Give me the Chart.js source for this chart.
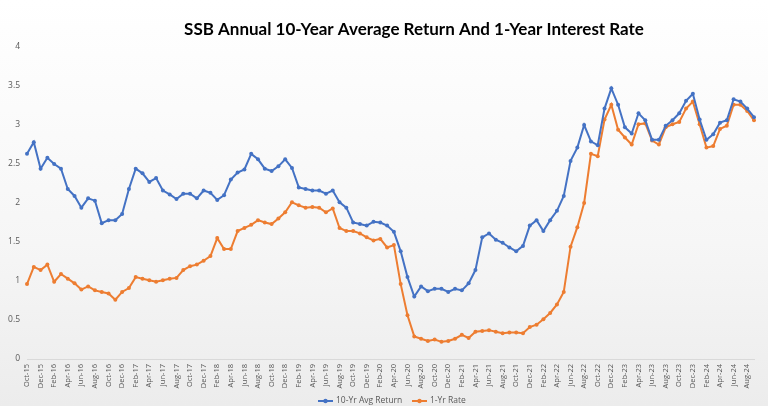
<!DOCTYPE html>
<html>
<head>
<meta charset="utf-8">
<script src="https://cdn.jsdelivr.net/npm/chart.js@4.4.1/dist/chart.umd.min.js"></script>
<style>
  html, body { margin: 0; padding: 0; }
  body { width: 768px; height: 406px; overflow: hidden; }
  #wrap { position: relative; width: 768px; height: 406px; background: linear-gradient(to bottom, #ffffff 0%, #f6f6f6 60%, #ececec 100%); }
  canvas { display: block; }
</style>
</head>
<body>
<div id="wrap"><canvas id="c" width="768" height="406"></canvas></div>
<script>
const titleText = "SSB Annual 10-Year Average Return And 1-Year Interest Rate";
const monthNames = ["Jan","Feb","Mar","Apr","May","Jun","Jul","Aug","Sep","Oct","Nov","Dec"];
const startYear = 2015, startMonth = 9, monthCount = 108; // Oct-15 .. Sep-24
const categories = [];
for (let i = 0; i < monthCount; i++) {
  const m = (startMonth + i) % 12;
  const y = startYear + Math.floor((startMonth + i) / 12);
  categories.push(monthNames[m] + "-" + String(y % 100).padStart(2, "0"));
}
const tenYrAvgReturn = [
  2.63, 2.78, 2.44, 2.58, 2.50, 2.44, 2.18, 2.09, 1.94, 2.06, 2.03, 1.74,
  1.78, 1.78, 1.86, 2.18, 2.44, 2.38, 2.27, 2.32, 2.16, 2.11, 2.05, 2.12,
  2.12, 2.06, 2.16, 2.13, 2.04, 2.10, 2.30, 2.39, 2.43, 2.63, 2.56, 2.44,
  2.41, 2.47, 2.56, 2.45, 2.20, 2.18, 2.16, 2.16, 2.12, 2.16, 2.01, 1.94,
  1.75, 1.73, 1.71, 1.76, 1.75, 1.71, 1.63, 1.38, 1.05, 0.80, 0.93, 0.87,
  0.90, 0.90, 0.86, 0.90, 0.88, 0.97, 1.14, 1.56, 1.61, 1.53, 1.49, 1.43,
  1.38, 1.45, 1.71, 1.78, 1.64, 1.78, 1.90, 2.09, 2.54, 2.71, 3.00, 2.79,
  2.74, 3.21, 3.47, 3.26, 2.97, 2.89, 3.15, 3.06, 2.81, 2.81, 2.99, 3.06,
  3.15, 3.31, 3.40, 3.07, 2.81, 2.88, 3.03, 3.06, 3.33, 3.30, 3.21, 3.10
];
const oneYrRate = [
  0.96, 1.18, 1.14, 1.21, 0.99, 1.09, 1.03, 0.97, 0.89, 0.93, 0.88, 0.86,
  0.84, 0.76, 0.86, 0.91, 1.05, 1.03, 1.01, 0.99, 1.01, 1.03, 1.04, 1.14,
  1.19, 1.21, 1.26, 1.32, 1.55, 1.41, 1.41, 1.64, 1.68, 1.72, 1.78, 1.75,
  1.73, 1.80, 1.88, 2.01, 1.97, 1.94, 1.95, 1.94, 1.88, 1.93, 1.68, 1.64,
  1.64, 1.61, 1.56, 1.52, 1.54, 1.43, 1.46, 0.96, 0.56, 0.29, 0.26, 0.23,
  0.25, 0.22, 0.23, 0.26, 0.31, 0.27, 0.35, 0.36, 0.37, 0.35, 0.33, 0.34,
  0.34, 0.33, 0.41, 0.44, 0.51, 0.59, 0.70, 0.86, 1.44, 1.69, 2.00, 2.63,
  2.60, 3.07, 3.26, 2.94, 2.84, 2.75, 3.01, 3.02, 2.80, 2.75, 2.97, 3.01,
  3.04, 3.21, 3.30, 3.01, 2.71, 2.73, 2.95, 2.99, 3.26, 3.26, 3.18, 3.06
];
const yTicks = [0, 0.5, 1, 1.5, 2, 2.5, 3, 3.5, 4];
const seriesNames = ["10-Yr Avg Return", "1-Yr Rate"];
const seriesColors = ["#4472C4", "#ED7D31"];

const titlePlugin = {
  id: "fixedTitle",
  afterDraw(chart) {
    const ctx = chart.ctx;
    ctx.save();
    ctx.font = "bold 17px Lato, 'Open Sans', sans-serif";
    ctx.fillStyle = "#000000";
    ctx.textAlign = "center";
    ctx.textBaseline = "middle";
    ctx.fillText(titleText, 414, 30);
    ctx.restore();
  }
};

const legendPlugin = {
  id: "fixedLegend",
  afterDraw(chart) {
    const ctx = chart.ctx;
    const y = 401;
    const starts = [318, 412];
    ctx.save();
    ctx.font = "8.5px 'Open Sans', sans-serif";
    ctx.textBaseline = "middle";
    ctx.textAlign = "left";
    chart.data.datasets.forEach((ds, i) => {
      const x0 = starts[i];
      ctx.strokeStyle = ds.borderColor;
      ctx.lineWidth = 2;
      ctx.beginPath(); ctx.moveTo(x0, y); ctx.lineTo(x0 + 15, y); ctx.stroke();
      ctx.fillStyle = ds.borderColor;
      ctx.beginPath(); ctx.arc(x0 + 7.5, y, 2.2, 0, Math.PI * 2); ctx.fill();
      ctx.fillStyle = "#595959";
      ctx.fillText(ds.label, x0 + 18, y);
    });
    ctx.restore();
  }
};

new Chart(document.getElementById("c"), {
  type: "line",
  data: {
    labels: categories,
    datasets: [
      { label: seriesNames[0], data: tenYrAvgReturn, borderColor: seriesColors[0], backgroundColor: seriesColors[0],
        borderWidth: 2, pointRadius: 2, pointHoverRadius: 2, pointBorderWidth: 0, tension: 0 },
      { label: seriesNames[1], data: oneYrRate, borderColor: seriesColors[1], backgroundColor: seriesColors[1],
        borderWidth: 2, pointRadius: 2, pointHoverRadius: 2, pointBorderWidth: 0, tension: 0 }
    ]
  },
  options: {
    responsive: false,
    animation: false,
    events: [],
    layout: { padding: { top: 47, right: 6, left: 0, bottom: 12 } },
    plugins: {
      title: { display: false },
      tooltip: { enabled: false },
      legend: { display: false }
    },
    scales: {
      x: {
        offset: false,
        grid: { display: false, drawTicks: false },
        border: { display: true, color: "#d9d9d9", width: 1 },
        ticks: {
          autoSkip: false,
          maxRotation: 90,
          minRotation: 90,
          padding: 5,
          font: { size: 7.5, family: "'Open Sans', sans-serif" },
          color: "#595959",
          callback(value, index) { return index % 2 === 0 ? categories[index] : ""; }
        },
        afterFit(scale) { scale.height = 35; }
      },
      y: {
        min: 0, max: 4,
        grid: { display: false, drawTicks: false },
        border: { display: false },
        afterBuildTicks(scale) { scale.ticks = yTicks.map(v => ({ value: v })); },
        ticks: {
          padding: 7,
          font: { size: 8.5, family: "'Open Sans', sans-serif" },
          color: "#595959",
          callback(v) { return String(v); }
        },
        afterFit(scale) { scale.width = 27; }
      }
    }
  },
  plugins: [titlePlugin, legendPlugin]
});
</script>
</body>
</html>
